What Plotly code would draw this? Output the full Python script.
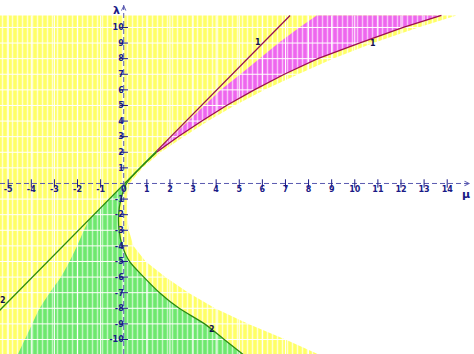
import plotly.graph_objects as go

# ---------------- data ----------------
mu_ticks = list(range(-5, 15))
lam_ticks = [v for v in range(-10, 11) if v != 0]

# outer boundary of the yellow region
lam_B = [-11.0, -10.0, -9.0, -8.0, -7.0, -6.0, -5.0, -4.0, -3.0, -2.0, -1.0, 0.0,
         1.0, 2.0, 3.0, 4.0, 5.0, 6.0, 7.0, 8.0, 9.0, 10.0, 10.77]
mu_B = [8.5, 7.0, 5.4, 3.95, 2.8, 1.8, 0.95, 0.42, 0.22, 0.14, 0.14, 0.25,
        0.82, 1.6, 2.6, 3.65, 4.8, 6.1, 7.55, 9.05, 10.8, 12.75, 14.4]

# curved boundary (lower part = curve 2, upper part = curve 1)
lam_C = [-11.0, -10.0, -9.0, -8.0, -7.0, -6.0, -5.0, -4.0, -3.0, -2.0, -1.0, 0.0,
         1.0, 2.0, 3.0, 4.0, 5.0, 6.0, 7.0, 8.0, 9.0, 10.0, 10.77]
mu_C = [5.2, 4.35, 3.5, 2.4, 1.55, 0.87, 0.25, -0.06, -0.2, -0.22, -0.12, 0.12,
        0.72, 1.42, 2.35, 3.38, 4.45, 5.65, 6.95, 8.4, 10.2, 12.1, 13.75]

# straight line (lower part = curve 2, upper part = curve 1)
mu_L = [-6.0, -1.49, 1.45, 7.2]
lam_L = [-9.08, -2.3, 2.12, 10.77]

# left edge of the magenta region
lam_M = [2.0, 3.0, 4.0, 5.0, 6.0, 7.0, 8.0, 9.0, 10.0, 10.77]
mu_M = [1.38, 2.08, 2.8, 3.5, 4.2, 5.05, 5.85, 6.7, 7.6, 8.35]

# left edge of the green region
lam_G = [-11.0, -10.0, -9.0, -8.0, -7.0, -6.0, -5.0, -4.0, -3.0, -2.3]
mu_G = [-4.6, -4.28, -3.96, -3.64, -3.2, -2.72, -2.35, -2.02, -1.72, -1.49]

# curve labels
lab_text = ["1", "1", "2", "2"]
lab_mu = [5.8, 10.8, -5.21, 3.81]
lab_lam = [9.05, 8.99, -7.47, -9.35]

# ---------------- layout constants ----------------
X_RANGE = [-5.355, 15.16]
Y_RANGE = [-10.93, 11.76]
X_ARROW = 14.99
Y_ARROW = 11.44
SPLIT = 2.0  # lambda where curves change from 2 to 1

YEL, YEL2 = "#ffff66", "#ffffd0"
MAG, MAG2 = "#ee66ee", "#f8c0f8"
GRN, GRN2 = "#6ee86e", "#c0f6c0"
C1 = "#9a1050"
C2 = "#2c8a10"
NAVY = "#1a1a86"
AXC = "#5a5ab0"

fig = go.Figure()

def patt(bg, fg):
    return dict(shape="|", bgcolor=bg, fgcolor=fg, size=5, solidity=0.3, fillmode="replace")

SM = dict(shape="spline", smoothing=0.8)

# yellow region
xl = X_RANGE[0] - 2
yb = lam_B[0] - 1
fig.add_trace(go.Scatter(
    x=[xl, mu_B[0]] + mu_B + [xl], y=[yb, yb] + lam_B + [lam_B[-1]],
    fill="toself", fillcolor=YEL, fillpattern=patt(YEL, YEL2),
    mode="lines", line=dict(width=0), hoverinfo="skip"))

# green region: G up, L to tangent, C down
iL = [i for i in range(len(mu_L)) if -2.3 <= lam_L[i] <= 2.12]
iC_low = [i for i in range(len(mu_C)) if lam_C[i] <= SPLIT][::-1]
gx = mu_G + [mu_L[i] for i in iL] + [mu_C[i] for i in iC_low]
gy = lam_G + [lam_L[i] for i in iL] + [lam_C[i] for i in iC_low]
fig.add_trace(go.Scatter(
    x=gx, y=gy, fill="toself", fillcolor=GRN, fillpattern=patt(GRN, GRN2),
    mode="lines", line=dict(width=0, **SM), hoverinfo="skip"))

# magenta region: M up, C down
iC_up = [i for i in range(len(mu_C)) if lam_C[i] >= SPLIT][::-1]
mx = mu_M + [mu_C[i] for i in iC_up]
my = lam_M + [lam_C[i] for i in iC_up]
fig.add_trace(go.Scatter(
    x=mx, y=my, fill="toself", fillcolor=MAG, fillpattern=patt(MAG, MAG2),
    mode="lines", line=dict(width=0), hoverinfo="skip"))

# white grid
gxs, gys = [], []
for m in mu_ticks:
    gxs += [m, m, None]
    gys += [Y_RANGE[0], lam_B[-1], None]
for l in lam_ticks:
    gxs += [X_RANGE[0], X_RANGE[1], None]
    gys += [l, l, None]
fig.add_trace(go.Scatter(x=gxs, y=gys, mode="lines",
                         line=dict(color="white", width=1), hoverinfo="skip"))

# curves 2 (green)
iC2 = [i for i in range(len(mu_C)) if lam_C[i] <= SPLIT]
iL2 = [i for i in range(len(mu_L)) if lam_L[i] <= 2.12]
fig.add_trace(go.Scatter(x=[mu_C[i] for i in iC2], y=[lam_C[i] for i in iC2],
                         mode="lines", line=dict(color=C2, width=1.3, **SM), hoverinfo="skip"))
fig.add_trace(go.Scatter(x=[mu_L[i] for i in iL2], y=[lam_L[i] for i in iL2],
                         mode="lines", line=dict(color=C2, width=1.3), hoverinfo="skip"))
# curves 1 (maroon)
iC1 = [i for i in range(len(mu_C)) if lam_C[i] >= SPLIT]
iL1 = [i for i in range(len(mu_L)) if lam_L[i] >= 2.12]
fig.add_trace(go.Scatter(x=[mu_C[i] for i in iC1], y=[lam_C[i] for i in iC1],
                         mode="lines", line=dict(color=C1, width=1.3), hoverinfo="skip"))
fig.add_trace(go.Scatter(x=[mu_L[i] for i in iL1], y=[lam_L[i] for i in iL1],
                         mode="lines", line=dict(color=C1, width=1.3), hoverinfo="skip"))

# dashed axes
fig.add_trace(go.Scatter(x=[X_RANGE[0], X_ARROW], y=[0, 0], mode="lines",
                         line=dict(color=AXC, width=1, dash="5px,3px"), hoverinfo="skip"))
fig.add_trace(go.Scatter(x=[0, 0], y=[Y_RANGE[0], Y_ARROW], mode="lines",
                         line=dict(color=AXC, width=1, dash="5px,3px"), hoverinfo="skip"))
# tick crosses
fig.add_trace(go.Scatter(x=[m for m in mu_ticks if m != 0], y=[0] * (len(mu_ticks) - 1),
                         mode="markers", hoverinfo="skip",
                         marker=dict(symbol="line-ns", size=6, line=dict(color=NAVY, width=1))))
fig.add_trace(go.Scatter(x=[0] * len(lam_ticks), y=lam_ticks,
                         mode="markers", hoverinfo="skip",
                         marker=dict(symbol="line-ew", size=6, line=dict(color=NAVY, width=1))))

# arrowheads
for (x, y, ax, ay) in [(X_ARROW, 0, -6, 0), (0, Y_ARROW, 0, 6)]:
    fig.add_annotation(x=x, y=y, ax=ax, ay=ay, axref="pixel", ayref="pixel",
                       showarrow=True, arrowhead=5, arrowsize=0.9, arrowwidth=1,
                       arrowcolor=AXC, text="")

# axis names
fig.add_annotation(x=X_ARROW, y=0, text="μ", showarrow=False, xanchor="center",
                   yanchor="top", xshift=-4, yshift=-3,
                   font=dict(family="DejaVu Sans", size=11, color=NAVY, weight="bold"))
fig.add_annotation(x=0, y=Y_ARROW, text="λ", showarrow=False, xanchor="right",
                   yanchor="middle", xshift=-2, yshift=-6,
                   font=dict(family="DejaVu Sans", size=11, color=NAVY, weight="bold"))

# curve labels
for t, x, y in zip(lab_text, lab_mu, lab_lam):
    fig.add_annotation(x=x, y=y, text=t, showarrow=False,
                       font=dict(family="DejaVu Sans", size=8, color="#101050", weight="bold"))

tf = dict(family="DejaVu Sans", size=8, color=NAVY, weight="bold")
fig.update_layout(
    width=474, height=354, autosize=False,
    margin=dict(l=0, r=0, t=0, b=0),
    paper_bgcolor="white", plot_bgcolor="white",
    showlegend=False,
    xaxis=dict(range=X_RANGE, showgrid=False, zeroline=False, showline=False,
               anchor="free", position=(0 - Y_RANGE[0]) / (Y_RANGE[1] - Y_RANGE[0]),
               tickvals=mu_ticks, ticktext=[str(v) for v in mu_ticks], ticks="",
               tickfont=tf, automargin=False, fixedrange=True),
    yaxis=dict(range=Y_RANGE, showgrid=False, zeroline=False, showline=False,
               anchor="free", position=(0 - X_RANGE[0]) / (X_RANGE[1] - X_RANGE[0]),
               tickvals=lam_ticks, ticktext=[str(v) for v in lam_ticks], ticks="",
               tickfont=tf, automargin=False, fixedrange=True),
)

fig.write_html("out.html", config={"displayModeBar": False})
